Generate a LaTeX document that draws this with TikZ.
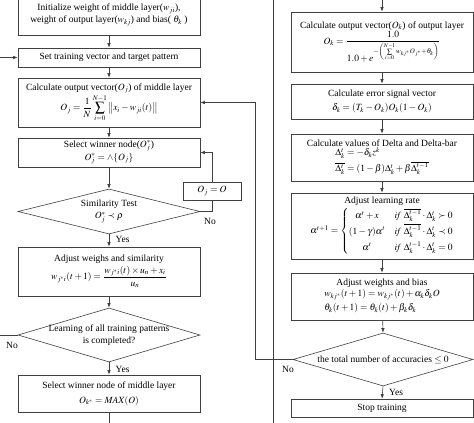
\documentclass[tikz,border=0pt]{standalone}
\usepackage{amsmath}
\usepackage{mathptmx}
\usepackage[no-math]{fontspec}
\setmainfont{Liberation Serif}
\usetikzlibrary{shapes.geometric,arrows.meta}
\begin{document}
\begin{tikzpicture}[x=1pt,y=-1pt,
  every node/.style={font=\fontsize{9.5}{12}\selectfont},
  box/.style={draw=black!75, line width=0.6pt, minimum width=182pt, inner sep=0pt, align=center},
  dia/.style={draw=black!75, line width=0.6pt, diamond, minimum width=182pt, inner sep=0pt},
  arr/.style={draw=black!75, -{Latex[length=4.5pt,width=3.5pt]}, line width=0.6pt},
  ln/.style={draw=black!75, line width=0.6pt},
  lbl/.style={inner sep=0pt}]
\useasboundingbox (0,0) rectangle (474,423);
\clip (0,0) rectangle (474,423);

% ---------- left column ----------
\node[box, minimum height=40pt] (b1) at (109,15) {Initialize weight of middle layer($w_{ji}$),\\ weight of output layer($w_{kj}$) and bias( $\theta_k$ )};
\node[box, minimum height=19pt] (b2) at (109,57.5) {Set training vector and target pattern};
\node[box, minimum height=49pt] (b3) at (109,102.5) {Calculate output vector($O_j$) of middle layer\\[1pt]
  $\displaystyle O_j=\frac{1}{N}\sum_{i=0}^{N-1}\left\|x_i-w_{ji}(t)\right\|$};
\node[box, minimum height=29pt] (b4) at (109,152.5) {Select winner node($O_j^*$)\\[1pt] $O_j^*=\wedge\{O_j\}$};
\node[dia, minimum height=45pt] (d1) at (109,211.5) {};
\node[lbl, align=center] (d1t) at (109,211.5) {Similarity Test\\ $O_j^*\prec\rho$};
\node[box, minimum width=58pt, minimum height=18pt] (ojo) at (212,191) {$O_j=O$};
\node[box, minimum height=49pt] (b5) at (109,271.5) {Adjust weighs and similarity\\[1pt]
  $\displaystyle w_{j^*i}(t+1)=\frac{w_{j^*i}(t)\times u_n+x_i}{u_n}$};
\node[dia, minimum height=54pt] (d2) at (109,335) {};
\node[lbl, align=center] (d2t) at (109,335) {Learning of all training patterns\\ is completed?};
\node[box, minimum height=37pt] (b6) at (109,393.5) {Select winner node of middle layer\\[3pt] $O_{k^*}=\mathit{MAX}(O)$};

% ---------- right column ----------
\node[box, minimum height=60pt] (r1) at (382,42) {Calculate output vector($O_k$) of output layer\\
  $\displaystyle O_k=\frac{1.0}{1.0+e^{-\left(\sum\limits_{i=0}^{N-1}w_{kj^*}O_{j^*}+\theta_k\right)}}$};
\node[box, minimum height=35pt] (r2) at (382,101.5) {Calculate error signal vector\\[2pt] $\delta_k=(T_k-O_k)O_k(1-O_k)$};
\node[box, minimum height=47pt] (r3) at (382,157.5) {Calculate values of Delta and Delta-bar\\
  \begin{tabular}{@{}l@{}}$\Delta_k^t=-\delta_k z^k$\\[2pt] $\overline{\Delta_k^t}=(1-\beta)\Delta_k^t+\beta\overline{\Delta_k^{t-1}}$\end{tabular}};
\node[box, minimum height=66pt] (r4) at (382,226) {Adjust learning rate\\[1pt]
  {\renewcommand{\arraystretch}{1.3}$\alpha^{t+1}=\left\{\begin{array}{@{}c@{\quad}l@{}}
   \alpha^t+x & \mathit{if}\ \overline{\Delta_k^{t-1}}\cdot\Delta_k^t\succ 0\\
   (1-\gamma)\alpha^t & \mathit{if}\ \overline{\Delta_k^{t-1}}\cdot\Delta_k^t\prec 0\\
   \alpha^t & \mathit{if}\ \Delta_k^{t-1}\cdot\Delta_k^t=0
  \end{array}\right.$}};
\node[box, minimum height=47pt] (r5) at (382,296.5) {Adjust weights and bias\\
  \begin{tabular}{@{}l@{}}$w_{kj^*}(t+1)=w_{kj^*}(t)+\alpha_k\delta_k O$\\[2pt] $\theta_k(t+1)=\theta_k(t)+\beta_k\delta_k$\end{tabular}};
\node[dia, minimum width=180pt, minimum height=53pt] (dr) at (383,359.5) {};
\node[lbl] (drt) at (383,359.5) {the total number of accuracies $\le 0$};
\node[box, minimum height=18pt] (st) at (382,408) {Stop training};

% ---------- coordinates ----------
\coordinate (inL) at (0,57.5);
\coordinate (noL) at (0,335);
\coordinate (b6end) at (109,423);
\coordinate (vt) at (273,0);
\coordinate (vb) at (273,423);
\coordinate (topR) at (382,0);
\coordinate (loop) at (255,102.5);

% ---------- connectors ----------
\draw[arr] (b1) -- (b2);
\draw[arr] (inL) -- (b2.west);
\draw[arr] (b2) -- (b3);
\draw[arr] (b3) -- (b4);
\draw[arr] (b4) -- (d1.north);
\draw[ln] (d1.east) -| (ojo.south);
\draw[arr] (ojo.north) |- (b4.east);
\draw[arr] (d1.south) -- node[right, xshift=3pt, yshift=1pt] {Yes} (b5.north);
\draw[arr] (b5) -- (d2.north);
\draw[ln] (d2.west) -- (noL);
\draw[arr] (d2.south) -- node[right, xshift=3pt, yshift=-1pt] {Yes} (b6.north);
\draw[ln] (b6.south) -- (b6end);
\draw[ln] (vt) -- (vb);

\draw[arr] (topR) -- (r1.north);
\draw[arr] (r1) -- (r2);
\draw[arr] (r2) -- (r3);
\draw[arr] (r3) -- (r4);
\draw[arr] (r4) -- (r5);
\draw[arr] (r5) -- (dr.north);
\draw[arr] (dr.south) -- node[right, xshift=3pt, yshift=0pt] {Yes} (st.north);
\draw[arr] (dr.west) -| (loop) -- (b3.east);

% ---------- labels ----------
\node (no1) at (210,221) {No};
\node (no2) at (12,345) {No};
\node (no3) at (288,369) {No};
\end{tikzpicture}
\end{document}
